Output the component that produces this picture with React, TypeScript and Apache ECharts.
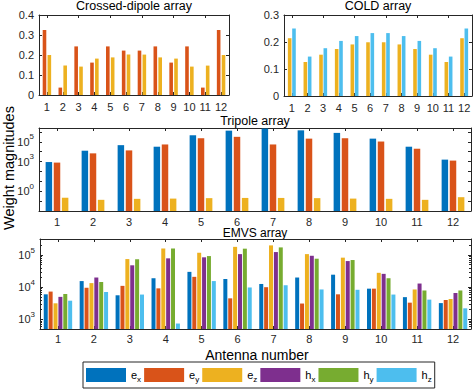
import React, { useEffect, useRef } from 'react';
import * as echarts from 'echarts';

// ---------- data ----------
const antennas = ['1', '2', '3', '4', '5', '6', '7', '8', '9', '10', '11', '12'];

// Crossed-dipole array (linear)
const cdEy = [0.325, 0.037, 0.243, 0.162, 0.243, 0.222, 0.222, 0.243, 0.162, 0.243, 0.037, 0.325];
const cdEz = [0.2, 0.147, 0.142, 0.182, 0.188, 0.202, 0.202, 0.188, 0.182, 0.142, 0.147, 0.2];

// COLD array (linear)
const coldEz = [0.214, 0.126, 0.153, 0.174, 0.191, 0.199, 0.199, 0.191, 0.174, 0.153, 0.126, 0.214];
const coldHz = [0.25, 0.146, 0.177, 0.204, 0.222, 0.233, 0.233, 0.222, 0.204, 0.177, 0.146, 0.25];

// Tripole array (log)
const triEx = [900, 12600, 46000, 32000, 460000, 1350000, 2200000, 1450000, 800000, 210000, 32000, 1580];
const triEy = [790, 6800, 13500, 54000, 230000, 320000, 54000, 210000, 230000, 107000, 20000, 1260];
const triEz = [0.22, 0.135, 0.17, 0.18, 0.2, 0.21, 0.21, 0.2, 0.18, 0.17, 0.135, 0.25];

// EMVS array (log)
const emvsEx = [6000, 15500, 5600, 19000, 30000, 18000, 12600, 20000, 24500, 9000, 4900, 3200];
const emvsEy = [7300, 9600, 11000, 9200, 21000, 4500, 10000, 3100, 6000, 9000, 3300, 4000];
const emvsEz = [3150, 13400, 75000, 160000, 118000, 180000, 200000, 107000, 83000, 28000, 8500, 4300];
const emvsHx = [5000, 20000, 48000, 79000, 85000, 107000, 124000, 95000, 65000, 26000, 13000, 6600];
const emvsHy = [6100, 14500, 74000, 160000, 93000, 158000, 173000, 77000, 70000, 19000, 7900, 7900];
const emvsHz = [3800, 7100, 5900, 740, 15500, 9800, 11500, 8500, 8300, 5900, 4100, 2200];

// axis ranges / tick labels
const cdMax = 0.4;
const coldMax = 0.3;
const linInterval = 0.1;
const triMin = 0.01;
const triMax = 2.5e6;
const triLabelExps = [0, 3, 5];
const emvsMin = 500;
const emvsMax = 3.16e5;
const emvsLabelExps = [3, 4, 5];

const legendNames = ['ex', 'ey', 'ez', 'hx', 'hy', 'hz'];

// ---------- styles ----------
const COLORS: Record<string, string> = {
  ex: '#0072BD',
  ey: '#D95319',
  ez: '#EDB120',
  hx: '#7E2F8E',
  hy: '#77AC30',
  hz: '#4DBEEE',
};
const FONT = '"Liberation Sans", Arial, Helvetica, sans-serif';
const AX = '#262626';

function catAxes(gridIndex: number, margin: number) {
  const common = {
    type: 'category',
    gridIndex,
    data: antennas,
    boundaryGap: true,
    axisLine: { show: true, onZero: false, lineStyle: { color: AX, width: 1 } },
    axisTick: { show: true, inside: true, alignWithLabel: true, length: 3, lineStyle: { color: AX } },
    splitLine: { show: false },
  };
  return [
    {
      ...common,
      position: 'bottom',
      axisLabel: { margin, fontSize: 11, lineHeight: 11, color: AX, fontFamily: FONT, interval: 0 },
    },
    { ...common, position: 'top', axisLabel: { show: false } },
  ];
}

function linAxes(gridIndex: number, max: number) {
  const common = {
    type: 'value',
    gridIndex,
    min: 0,
    max,
    interval: linInterval,
    splitLine: { show: false },
    axisLine: { show: true, lineStyle: { color: AX, width: 1 } },
    axisTick: { show: true, inside: true, length: 3, lineStyle: { color: AX } },
  };
  return [
    { ...common, position: 'left', axisLabel: { margin: 5, fontSize: 11, color: AX, fontFamily: FONT } },
    { ...common, position: 'right', axisLabel: { show: false } },
  ];
}

const supRich = {
  b: { fontSize: 11, fontFamily: FONT, color: AX, lineHeight: 18 },
  s: { fontSize: 8, fontFamily: FONT, color: AX, lineHeight: 8, verticalAlign: 'top' },
};

function logAxes(gridIndex: number, min: number, max: number, labelExps: number[]) {
  const common = {
    type: 'log',
    logBase: 10,
    gridIndex,
    min,
    max,
    startValue: min,
    splitLine: { show: false },
    axisLine: { show: true, lineStyle: { color: AX, width: 1 } },
    axisTick: { show: true, inside: true, length: 3, lineStyle: { color: AX } },
  };
  return [
    {
      ...common,
      position: 'left',
      axisLabel: {
        margin: 5,
        formatter: (v: number) => {
          const e = Math.log10(v);
          const r = Math.round(e);
          if (Math.abs(e - r) > 1e-6 || labelExps.indexOf(r) < 0) return '';
          return `{b|10}{s|${r}}`;
        },
        rich: supRich,
      },
    },
    { ...common, position: 'right', axisLabel: { show: false } },
  ];
}

function minorExps(min: number, max: number) {
  const out: number[] = [];
  const lo = Math.log10(min);
  const hi = Math.log10(max);
  for (let n = Math.floor(lo); n <= Math.ceil(hi); n++) {
    for (let k = 2; k <= 9; k++) {
      const v = n + Math.log10(k);
      if (v > lo && v < hi) out.push(v);
    }
  }
  return out;
}

function minorAxes(gridIndex: number, min: number, max: number) {
  const common = {
    type: 'value',
    gridIndex,
    min: Math.log10(min),
    max: Math.log10(max),
    splitLine: { show: false },
    axisLine: { show: false },
    axisLabel: { show: false },
    axisTick: {
      show: true,
      inside: true,
      length: 2,
      lineStyle: { color: AX },
      customValues: minorExps(min, max),
    },
  };
  return [
    { ...common, position: 'left' },
    { ...common, position: 'right' },
  ];
}

function bar(name: string, colorKey: string, data: number[], xi: number, yi: number, width: number, gap: string) {
  return {
    type: 'bar',
    name,
    data,
    xAxisIndex: xi,
    yAxisIndex: yi,
    barWidth: width,
    barGap: gap,
    itemStyle: { color: COLORS[colorKey] },
    emphasis: { disabled: true },
  };
}

const SUB: Record<string, [string, string]> = {
  ex: ['e', 'x'],
  ey: ['e', 'y'],
  ez: ['e', 'z'],
  hx: ['h', 'x'],
  hy: ['h', 'y'],
  hz: ['h', 'z'],
};

function text(t: string, x: number, y: number, size: number, rotation = 0) {
  return {
    type: 'text',
    x,
    y,
    rotation,
    style: {
      text: t,
      fill: '#000',
      font: `${size}px ${FONT}`,
      align: 'center',
      verticalAlign: 'middle',
    },
  };
}

export default function App() {
  const ref = useRef<HTMLDivElement>(null);
  useEffect(() => {
    if (!ref.current) return;
    const chart = echarts.init(ref.current, undefined, { renderer: 'svg' });
    const option: any = {
      animation: false,
      backgroundColor: '#ffffff',
      grid: [
        { left: 39, top: 15, width: 190, height: 80, outerBoundsMode: 'none' },
        { left: 284, top: 15, width: 188, height: 81, outerBoundsMode: 'none' },
        { left: 39, top: 128, width: 432, height: 83, outerBoundsMode: 'none' },
        { left: 40, top: 239, width: 431, height: 90, outerBoundsMode: 'none' },
      ],
      xAxis: [...catAxes(0, 6), ...catAxes(1, 6), ...catAxes(2, 5), ...catAxes(3, 4)],
      yAxis: [
        ...linAxes(0, cdMax),
        ...linAxes(1, coldMax),
        ...logAxes(2, triMin, triMax, triLabelExps),
        ...logAxes(3, emvsMin, emvsMax, emvsLabelExps),
        ...minorAxes(3, emvsMin, emvsMax),
      ],
      legend: {
        data: legendNames,
        left: 83,
        top: 362,
        orient: 'horizontal',
        icon: 'rect',
        itemWidth: 40,
        itemHeight: 14,
        itemGap: 3,
        padding: [6, 3, 5, 3],
        borderColor: AX,
        borderWidth: 1,
        backgroundColor: '#fff',
        selectedMode: false,
        formatter: (name: string) => `{m|${SUB[name][0]}}{u|${SUB[name][1]}}`,
        textStyle: {
          rich: {
            m: { fontSize: 11, fontFamily: FONT, color: '#000', lineHeight: 16 },
            u: { fontSize: 8, fontFamily: FONT, color: '#000', lineHeight: 8, verticalAlign: 'bottom' },
          },
        },
      },
      graphic: [
        text('Crossed-dipole array', 134, 6, 12.5),
        text('COLD array', 378, 6, 12.5),
        text('Tripole array', 255, 121, 12.5),
        text('EMVS array', 255, 233, 12),
        text('Antenna number', 257, 355, 14),
        text('Weight magnitudes', 9, 168, 14.5, Math.PI / 2),
      ],
      series: [
        bar('cd-ey', 'ey', cdEy, 0, 0, 3.6, '35%'),
        bar('cd-ez', 'ez', cdEz, 0, 0, 3.6, '35%'),
        bar('cold-ez', 'ez', coldEz, 2, 2, 3.6, '20%'),
        bar('cold-hz', 'hz', coldHz, 2, 2, 3.6, '20%'),
        bar('tri-ex', 'ex', triEx, 4, 4, 6.5, '25%'),
        bar('tri-ey', 'ey', triEy, 4, 4, 6.5, '25%'),
        bar('tri-ez', 'ez', triEz, 4, 4, 6.5, '25%'),
        bar('ex', 'ex', emvsEx, 6, 6, 4, '22%'),
        bar('ey', 'ey', emvsEy, 6, 6, 4, '22%'),
        bar('ez', 'ez', emvsEz, 6, 6, 4, '22%'),
        bar('hx', 'hx', emvsHx, 6, 6, 4, '22%'),
        bar('hy', 'hy', emvsHy, 6, 6, 4, '22%'),
        bar('hz', 'hz', emvsHz, 6, 6, 4, '22%'),
      ],
    };
    chart.setOption(option);
    return () => chart.dispose();
  }, []);
  return (
    <div
      ref={ref}
      style={{ position: 'absolute', left: 0, top: 0, width: 474, height: 389, background: '#fff' }}
    />
  );
}
